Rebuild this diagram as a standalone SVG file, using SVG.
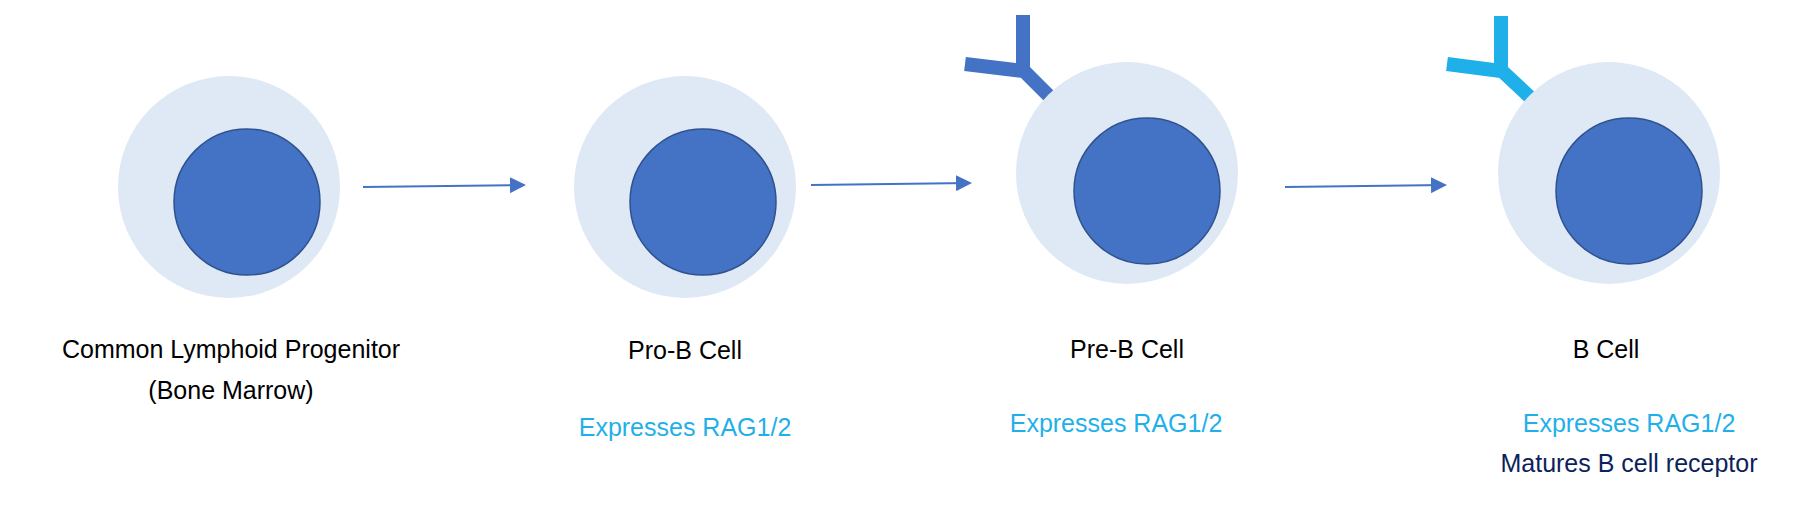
<svg xmlns="http://www.w3.org/2000/svg" width="1812" height="506" viewBox="0 0 1812 506">
<style>
.cell{fill:#dee9f5}
.nuc{fill:#4472c4;stroke:#2f528f;stroke-width:1.5}
.t{font-family:"Liberation Sans",Arial,sans-serif;font-size:25px;text-anchor:middle;fill:#000}
.rag{fill:#1fb0ea}
.mat{fill:#0d1f5c}
.conn{stroke:#4472c4;stroke-width:2;fill:none;marker-end:url(#ah)}
.rec{fill:none;stroke-width:14;stroke-linejoin:miter}
</style>
<defs><marker id="ah" markerWidth="8" markerHeight="8" refX="7" refY="4" orient="auto" markerUnits="strokeWidth"><path d="M0,0 L8,4 L0,8 Z" fill="#4472c4"/></marker></defs>
<rect width="1812" height="506" fill="#fff"/>
<g id="clp"><circle class="cell" cx="229" cy="187" r="111"/><circle class="nuc" cx="247" cy="202" r="73"/>
<text class="t" x="231" y="358">Common Lymphoid Progenitor</text><text class="t" x="231" y="399">(Bone Marrow)</text></g>
<g id="prob"><circle class="cell" cx="685" cy="187" r="111"/><circle class="nuc" cx="703" cy="202" r="73"/>
<text class="t" x="685" y="359">Pro-B Cell</text><text class="t rag" x="685" y="436">Expresses RAG1/2</text></g>
<g id="preb"><path class="rec" stroke="#4472c4" d="M1023,15 V70 L1052,99 M965,64 L1023,71"/><circle class="cell" cx="1127" cy="173" r="111"/><circle class="nuc" cx="1147" cy="191" r="73"/>
<text class="t" x="1127" y="358">Pre-B Cell</text><text class="t rag" x="1116" y="432">Expresses RAG1/2</text></g>
<g id="bcell"><path class="rec" stroke="#1fb0ea" d="M1501,16 V70 L1532,99 M1447,64 L1501,71"/><circle class="cell" cx="1609" cy="173" r="111"/><circle class="nuc" cx="1629" cy="191" r="73"/>
<text class="t" x="1606" y="358">B Cell</text><text class="t rag" x="1629" y="432">Expresses RAG1/2</text><text class="t mat" x="1629" y="472">Matures B cell receptor</text></g>
<g id="connectors">
<line class="conn" x1="363" y1="187" x2="524" y2="185"/>
<line class="conn" x1="811" y1="185" x2="970" y2="183"/>
<line class="conn" x1="1285" y1="187" x2="1445" y2="185"/>
</g>
</svg>
